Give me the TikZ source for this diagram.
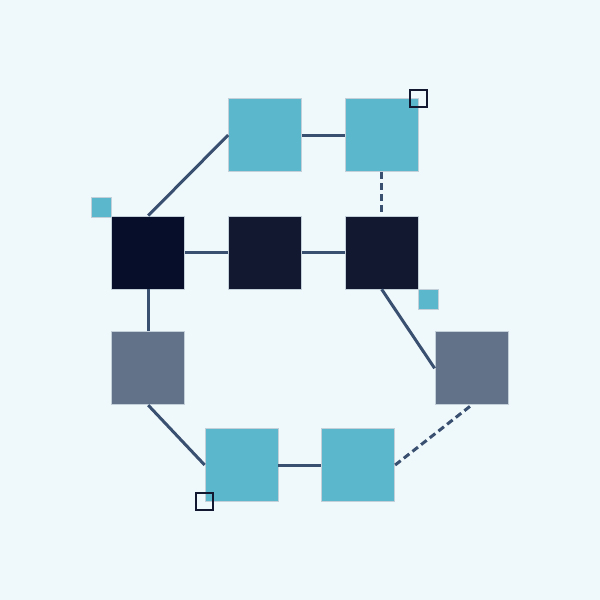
\documentclass[tikz,border=0pt]{standalone}
\definecolor{bgc}{HTML}{EFF8FB}
\definecolor{cyanb}{HTML}{5BB8CC}
\definecolor{navyA}{HTML}{060E2A}
\definecolor{navyB}{HTML}{111830}
\definecolor{grayb}{HTML}{627289}
\definecolor{linec}{HTML}{3A5070}
\definecolor{edgec}{HTML}{C3D0DA}
\begin{document}
\begin{tikzpicture}[x=1pt,y=-1pt,
  boxn/.style={rectangle,minimum width=73pt,minimum height=73pt,inner sep=0pt,draw=edgec,line width=0.7pt},
  cyanbox/.style={boxn,fill=cyanb},
  navyboxA/.style={boxn,fill=navyA},
  navyboxB/.style={boxn,fill=navyB},
  graybox/.style={boxn,fill=grayb},
  conn/.style={draw=linec,line width=3pt},
  dconn/.style={conn,dash pattern=on 7pt off 4pt},
  chip/.style={rectangle,minimum width=20pt,minimum height=20pt,inner sep=0pt,fill=cyanb,draw=edgec,line width=0.5pt},
  mark box/.style={rectangle,minimum width=17pt,minimum height=17pt,inner sep=0pt,draw=navyB,line width=2pt}]
\fill[bgc] (0,0) rectangle (600,600);
\useasboundingbox (0,0) rectangle (600,600);
% nodes
\node[cyanbox]  (A) at (265,135) {};
\node[cyanbox]  (B) at (381.7,135) {};
\node[navyboxA] (C) at (148.2,252.5) {};
\node[navyboxB] (D) at (265,252.5) {};
\node[navyboxB] (E) at (381.7,252.5) {};
\node[graybox]  (F) at (148.2,368.3) {};
\node[graybox]  (G) at (471.5,368.3) {};
\node[cyanbox]  (H) at (241.5,465) {};
\node[cyanbox]  (I) at (358.3,465) {};
% connectors
\draw[conn] (A.east) -- (B.west);
\draw[conn] (A.west) -- (C.north);
\draw[conn] (C.east) -- (D.west);
\draw[conn] (D.east) -- (E.west);
\draw[dconn] (B.south) -- (E.north);
\draw[conn] (E.south) -- (G.west);
\draw[conn] (C.south) -- (F.north);
\draw[conn] (F.south) -- (H.west);
\draw[conn] (H.east) -- (I.west);
\draw[dconn] (I.east) -- (G.south);
% decorations
\node[chip] (c1) at (101.7,207.7) {};
\node[chip] (c2) at (428.3,299.3) {};
\node[mark box] (m1) at (B.north east) {};
\node[mark box] (m2) at (H.south west) {};
\end{tikzpicture}
\end{document}
